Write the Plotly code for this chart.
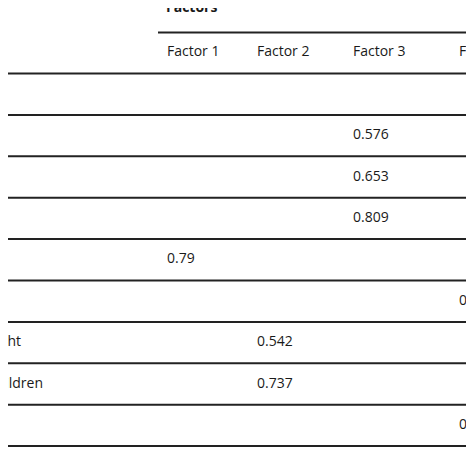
import plotly.graph_objects as go

columns = ["Factor 1", "Factor 2", "Factor 3", "Factor 4"]
row_labels = ["", "", "", "Peer group", "", "", "Body weight", "Having children", ""]
factor1 = [None, None, None, None, "0.79", None, None, None, None]
factor2 = [None, None, None, None, None, None, "0.542", "0.737", None]
factor3 = [None, "0.576", "0.653", "0.809", None, None, None, None, None]
factor4 = [None, None, None, None, None, "0.711", None, None, "0.684"]

col_x = [167, 257, 353, 459]
label_end_x = [0, 0, 0, 6, 0, 0, 21, 43, 0]
row_top = 73.5
row_h = 41.4
font = "Open Sans, Lato, sans-serif"
fsize = 14

fig = go.Figure()
row_y = [row_top + row_h * (i + 0.5) for i in range(len(row_labels))]

fig.add_trace(go.Scatter(x=label_end_x, y=row_y, text=row_labels, mode="text",
                         textposition="middle left", cliponaxis=True,
                         textfont=dict(family=font, size=fsize, color="#1a1a1a")))
for series, cx in zip([factor1, factor2, factor3, factor4], col_x):
    ys = [y for y, v in zip(row_y, series) if v is not None]
    ts = [v for v in series if v is not None]
    fig.add_trace(go.Scatter(x=[cx] * len(ys), y=ys, text=ts, mode="text",
                             textposition="middle right", cliponaxis=True,
                             textfont=dict(family=font, size=fsize, color="#1a1a1a")))
fig.add_trace(go.Scatter(x=col_x, y=[52] * 4, text=columns, mode="text",
                         textposition="middle right", cliponaxis=True,
                         textfont=dict(family=font, size=fsize, color="#1a1a1a")))
fig.add_trace(go.Scatter(x=[166], y=[8], text=["<b>Factors*</b>"], mode="text",
                         textposition="middle right", cliponaxis=True,
                         textfont=dict(family=font, size=fsize, color="#1a1a1a")))

shapes = [dict(type="line", x0=158, x1=490, y0=32.5, y1=32.5, line=dict(color="#222", width=2))]
for i in range(len(row_labels) + 1):
    y = row_top + row_h * i
    shapes.append(dict(type="line", x0=-10, x1=490, y0=y, y1=y, line=dict(color="#222", width=2)))

fig.update_layout(width=474, height=474, margin=dict(l=0, r=0, t=0, b=0),
                  paper_bgcolor="white", plot_bgcolor="white", showlegend=False,
                  shapes=shapes,
                  xaxis=dict(range=[8, 482], visible=False, fixedrange=True),
                  yaxis=dict(range=[482, 8], visible=False, fixedrange=True))
fig.write_html("out.html", config={"displayModeBar": False})
